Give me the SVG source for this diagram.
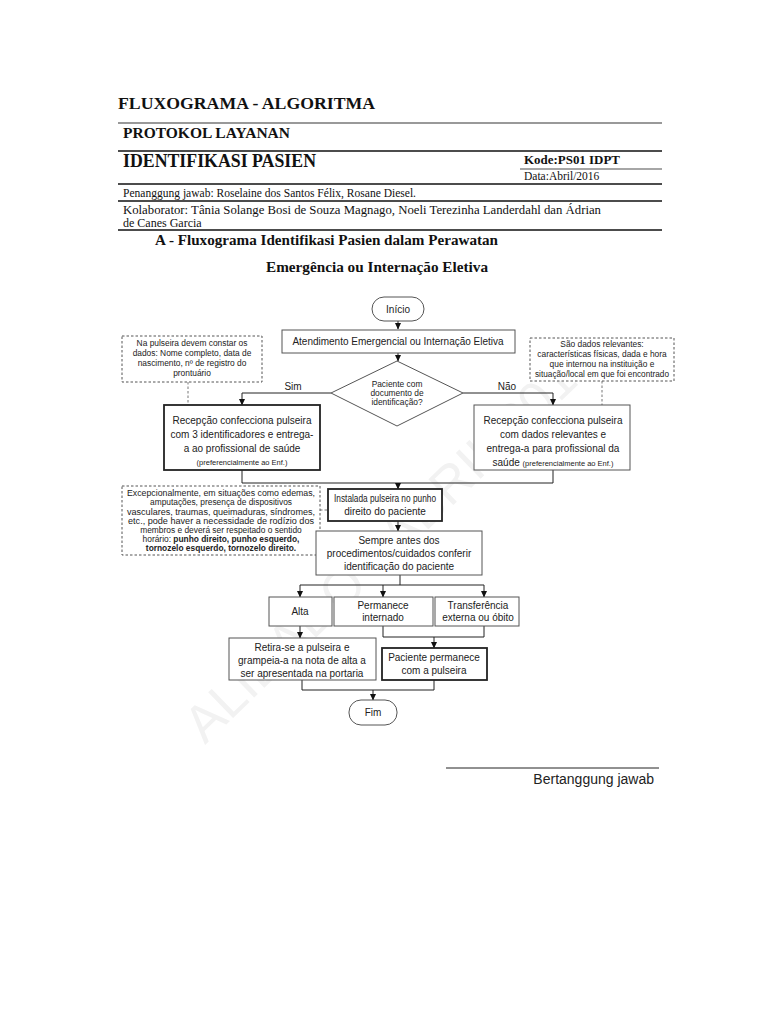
<svg xmlns="http://www.w3.org/2000/svg" width="768" height="1024" viewBox="0 0 768 1024">
<defs>
<marker id="ah" markerWidth="7" markerHeight="7" refX="6" refY="3.5" orient="auto" markerUnits="userSpaceOnUse">
<path d="M0,0.5 L6.5,3.5 L0,6.5 Z" fill="#111"/>
</marker>
<style>
.hd{font-family:"Liberation Serif","Times New Roman",serif;fill:#111}
.b{font-weight:bold}
.t{font-family:"Liberation Sans",Arial,sans-serif;font-size:10px;fill:#222;text-anchor:middle}
.s{font-family:"Liberation Sans",Arial,sans-serif;font-size:8.4px;fill:#222;text-anchor:middle}
.sm{font-size:7.5px}
.box{fill:#fff;stroke:#555;stroke-width:1}
.thick{fill:#fff;stroke:#222;stroke-width:1.8}
.note{fill:#fff;stroke:#555;stroke-width:1;stroke-dasharray:2.5,2}
.ln{fill:none;stroke:#222;stroke-width:1}
.dl{fill:none;stroke:#777;stroke-width:1;stroke-dasharray:2.5,2}
.rule{stroke:#111;stroke-width:1.3}
.rg{stroke:#999;stroke-width:2}
</style>
</defs>
<rect width="768" height="1024" fill="#fff"/>

<text x="205" y="745" transform="rotate(-44 205 745)" font-family="Liberation Sans,Arial,sans-serif" font-size="52" fill="#f2f2f2">ALIDADO - ABRIL 2016</text>

<g id="header">
<text class="hd b" x="118" y="109" font-size="17.5" textLength="257" lengthAdjust="spacingAndGlyphs">FLUXOGRAMA - ALGORITMA</text>
<line class="rg" x1="118" y1="123" x2="662" y2="123"/>
<text class="hd b" x="123" y="138" font-size="14.5" textLength="167" lengthAdjust="spacingAndGlyphs">PROTOKOL LAYANAN</text>
<line class="rule" x1="118" y1="151" x2="662" y2="151"/>
<text class="hd b" x="123" y="167" font-size="18.5" textLength="193" lengthAdjust="spacingAndGlyphs">IDENTIFIKASI PASIEN</text>
<text class="hd b" x="524" y="164" font-size="11.5" textLength="96" lengthAdjust="spacingAndGlyphs">Kode:PS01 IDPT</text>
<line x1="520" y1="169" x2="662" y2="169" stroke="#888" stroke-width="1.5"/>
<text class="hd" x="524" y="180" font-size="11.5">Data:Abril/2016</text>
<line class="rule" x1="118" y1="184" x2="662" y2="184"/>
<text class="hd" x="123" y="197" font-size="12" textLength="293" lengthAdjust="spacingAndGlyphs">Penanggung jawab: Roselaine dos Santos Félix, Rosane Diesel.</text>
<line class="rule" x1="118" y1="201" x2="662" y2="201"/>
<text class="hd" x="123" y="214" font-size="12" textLength="478" lengthAdjust="spacingAndGlyphs">Kolaborator: Tânia Solange Bosi de Souza Magnago, Noeli Terezinha Landerdahl dan Ádrian</text>
<text class="hd" x="123" y="227" font-size="12">de Canes Garcia</text>
<line class="rule" x1="118" y1="230" x2="662" y2="230"/>
<text class="hd b" x="155" y="245" font-size="14.5" textLength="343" lengthAdjust="spacingAndGlyphs">A - Fluxograma Identifikasi Pasien dalam Perawatan</text>
<text class="hd b" x="266" y="272" font-size="14.5" textLength="222" lengthAdjust="spacingAndGlyphs">Emergência ou Internação Eletiva</text>
</g>

<g id="connectors">
<path class="ln" d="M398 321 V329" marker-end="url(#ah)"/>
<path class="ln" d="M398 353 V361" marker-end="url(#ah)"/>
<path class="ln" d="M331 393 H242 V405" marker-end="url(#ah)"/>
<path class="ln" d="M463 393 H553 V405" marker-end="url(#ah)"/>
<path class="ln" d="M242 470 V483 H553 V470"/>
<path class="ln" d="M398 483 V489" marker-end="url(#ah)"/>
<path class="ln" d="M398 521 V531" marker-end="url(#ah)"/>
<path class="ln" d="M400 575 V585"/>
<path class="ln" d="M300 585 H484"/>
<path class="ln" d="M300 585 V597" marker-end="url(#ah)"/>
<path class="ln" d="M383 585 V597" marker-end="url(#ah)"/>
<path class="ln" d="M484 585 V597" marker-end="url(#ah)"/>
<path class="ln" d="M300 626 V638" marker-end="url(#ah)"/>
<path class="ln" d="M383 626 V637 H484 V626"/>
<path class="ln" d="M434 637 V648" marker-end="url(#ah)"/>
<path class="ln" d="M302 680 V690 H434 V680"/>
<path class="ln" d="M373 690 V700" marker-end="url(#ah)"/>
<path class="dl" d="M188 382 V405"/>
<path class="dl" d="M602 381 V405"/>
<path class="dl" d="M320 510 H328"/>
<text class="t" x="293" y="390" font-size="9">Sim</text>
<text class="t" x="507" y="390" font-size="9">Não</text>
</g>

<g id="inicio">
<rect class="box" x="372" y="297" width="52" height="24" rx="12" stroke="#333"/>
<text class="t" x="398" y="312.5">Início</text>
</g>

<g id="atendimento">
<rect class="box" x="282" y="330" width="233" height="23"/>
<text class="t" x="398" y="345">Atendimento Emergencial ou Internação Eletiva</text>
</g>

<g id="decisao">
<polygon class="box" points="397,361 463,393 397,426 331,393"/>
<text class="s" x="397" y="387" font-size="8.8">Paciente com</text>
<text class="s" x="397" y="396" font-size="8.8">documento de</text>
<text class="s" x="397" y="405" font-size="8.8">identificação?</text>
</g>

<g id="nota-pulseira">
<rect class="note" x="122" y="336" width="140" height="46"/>
<text class="s" x="192" y="346">Na pulseira devem constar os</text>
<text class="s" x="192" y="356">dados: Nome completo, data de</text>
<text class="s" x="192" y="366">nascimento, nº de registro do</text>
<text class="s" x="192" y="376">prontuário</text>
</g>

<g id="nota-relevantes">
<rect class="note" x="530" y="338" width="144" height="43"/>
<text class="s" x="602" y="347">São dados relevantes:</text>
<text class="s" x="602" y="357">características físicas, dada e hora</text>
<text class="s" x="602" y="367">que internou na instituição e</text>
<text class="s" x="602" y="377" textLength="134" lengthAdjust="spacingAndGlyphs">situação/local em que foi encontrado</text>
</g>

<g id="recepcao-sim">
<rect class="thick" x="164" y="405" width="156" height="65"/>
<text class="t" x="242" y="424">Recepção confecciona pulseira</text>
<text class="t" x="242" y="438">com 3 identificadores e entrega-</text>
<text class="t" x="242" y="452">a ao profissional de saúde</text>
<text class="s sm" x="242" y="465">(preferencialmente ao Enf.)</text>
</g>

<g id="recepcao-nao">
<rect class="box" x="474" y="405" width="156" height="65"/>
<text class="t" x="553" y="424">Recepção confecciona pulseira</text>
<text class="t" x="553" y="438">com dados relevantes e</text>
<text class="t" x="553" y="452">entrega-a para profissional da</text>
<text class="t" x="553" y="466">saúde <tspan font-size="7.5">(preferencialmente ao Enf.)</tspan></text>
</g>

<g id="nota-excecao">
<rect class="note" x="122" y="486" width="198" height="69"/>
<text class="s" x="221" y="496" textLength="188" lengthAdjust="spacingAndGlyphs">Excepcionalmente, em situações como edemas,</text>
<text class="s" x="221" y="505">amputações, presença de dispositivos</text>
<text class="s" x="221" y="514.5" textLength="188" lengthAdjust="spacingAndGlyphs">vasculares, traumas, queimaduras, síndromes,</text>
<text class="s" x="221" y="524" textLength="186" lengthAdjust="spacingAndGlyphs">etc., pode haver a necessidade de rodízio dos</text>
<text class="s" x="221" y="533">membros e deverá ser respeitado o sentido</text>
<text class="s" x="221" y="542">horário: <tspan font-weight="bold">punho direito, punho esquerdo,</tspan></text>
<text class="s" x="221" y="551" font-weight="bold">tornozelo esquerdo, tornozelo direito.</text>
</g>

<g id="instalada">
<rect class="thick" x="328" y="489" width="114" height="32"/>
<text class="t" x="385" y="502" font-size="10.2" textLength="102" lengthAdjust="spacingAndGlyphs">Instalada pulseira no punho</text>
<text class="t" x="385" y="515">direito do paciente</text>
</g>

<g id="sempre">
<rect class="box" x="316" y="531" width="166" height="44"/>
<text class="t" x="399" y="544">Sempre antes dos</text>
<text class="t" x="399" y="557">procedimentos/cuidados conferir</text>
<text class="t" x="399" y="570">identificação do paciente</text>
</g>

<g id="alta">
<rect class="box" x="269" y="597" width="63" height="29"/>
<text class="t" x="300" y="615">Alta</text>
</g>

<g id="permanece">
<rect class="box" x="334" y="597" width="99" height="29"/>
<text class="t" x="383" y="609">Permanece</text>
<text class="t" x="383" y="621">internado</text>
</g>

<g id="transferencia">
<rect class="box" x="435" y="597" width="84" height="29" stroke="#333" stroke-width="1.3"/>
<text class="t" x="478" y="609">Transferência</text>
<text class="t" x="478" y="621">externa ou óbito</text>
</g>

<g id="retira">
<rect class="box" x="229" y="638" width="147" height="42"/>
<text class="t" x="302" y="651">Retira-se a pulseira e</text>
<text class="t" x="302" y="664">grampeia-a na nota de alta a</text>
<text class="t" x="302" y="677">ser apresentada na portaria</text>
</g>

<g id="paciente-permanece">
<rect class="thick" x="382" y="648" width="105" height="32"/>
<text class="t" x="434" y="661">Paciente permanece</text>
<text class="t" x="434" y="674">com a pulseira</text>
</g>

<g id="fim">
<rect class="box" x="349" y="700" width="48" height="25" rx="12" stroke="#333"/>
<text class="t" x="373" y="716">Fim</text>
</g>

<g id="assinatura">
<line x1="446" y1="768" x2="659" y2="768" stroke="#222" stroke-width="1"/>
<text x="654" y="784" font-family="Liberation Sans,Arial,sans-serif" font-size="14" fill="#222" text-anchor="end">Bertanggung jawab</text>
</g>
</svg>
